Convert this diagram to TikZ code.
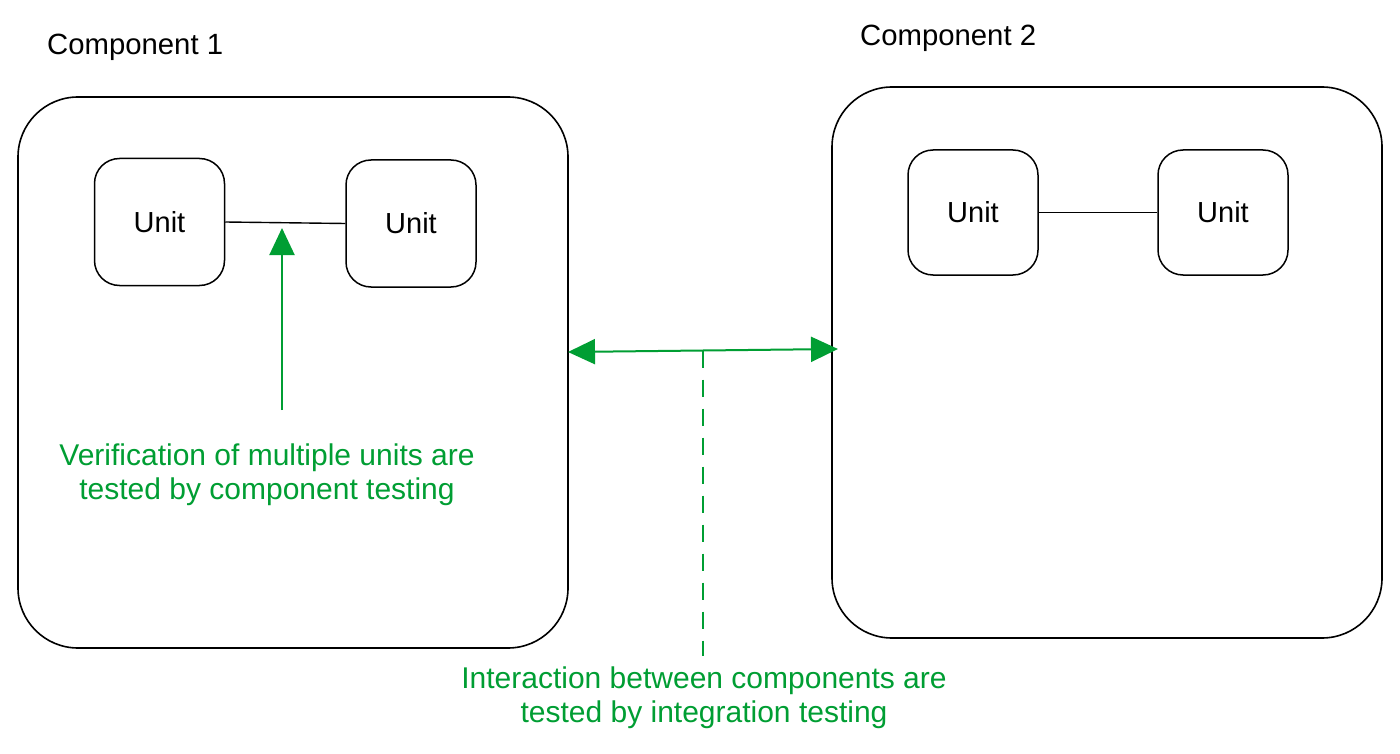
\documentclass[tikz,border=0pt]{standalone}
\usepackage{fontspec}
\setmainfont{Liberation Sans}
\usetikzlibrary{arrows.meta}
\definecolor{tgreen}{RGB}{0,158,51}
\begin{document}
\begin{tikzpicture}[x=1pt,y=-1pt,
  bigbox/.style={draw=black,line width=1.6pt,rounded corners=60pt,minimum width=550pt,minimum height=551pt,inner sep=0pt},
  unitbox/.style={draw=black,line width=1.5pt,rounded corners=25pt,minimum width=130pt,minimum height=127pt,inner sep=0pt,font=\fontsize{29}{34}\selectfont},
  lbl/.style={inner sep=0pt,font=\fontsize{29.3}{34}\selectfont},
  gtext/.style={inner sep=0pt,align=center,text=tgreen,font=\fontsize{30}{34}\selectfont},
  link/.style={draw=black,line width=1.4pt},
  garrow/.style={draw=tgreen,line width=2pt,-{Triangle[length=27pt,width=25pt]}},
  gdouble/.style={draw=tgreen,line width=2pt,{Triangle[length=27pt,width=25pt]}-{Triangle[length=27pt,width=25pt]}},
  gdash/.style={draw=tgreen,line width=2pt,dash pattern=on 17pt off 12pt}]
\useasboundingbox (0,0) rectangle (1400,754);
\fill[white] (0,0) rectangle (1400,754);
% components
\node[bigbox] (c1) at (293,372.5) {};
\node[bigbox] (c2) at (1107,362.5) {};
\node[lbl,anchor=west] (l1) at (47,47) {Component 1};
\node[lbl,anchor=west] (l2) at (860,38) {Component 2};
% units
\node[unitbox] (ua) at (159.5,222) {Unit};
\node[unitbox] (ub) at (411,223.5) {Unit};
\node[unitbox,minimum height=125pt] (uc) at (973,212.5) {Unit};
\node[unitbox,minimum height=125pt] (ud) at (1223,212.5) {Unit};
\draw[link] (ua.east) -- (ub.west);
\draw[link] (uc.east) -- (ud.west);
% component testing arrow
\coordinate (vb) at (282,410);
\coordinate (vt) at (282,228);
\draw[garrow] (vb) -- (vt);
\node[gtext] (t1) at (267,475) {Verification of multiple units are\\tested by component testing};
% integration arrow
\coordinate (dl) at (568,352);
\coordinate (dr) at (838,349);
\coordinate (dm) at (703,350.5);
\coordinate (de) at (703,656);
\draw[gdouble] (dl) -- (dr);
\draw[gdash] (dm) -- (de);
\node[gtext] (t2) at (704,698) {Interaction between components are\\tested by integration testing};
\end{tikzpicture}
\end{document}
